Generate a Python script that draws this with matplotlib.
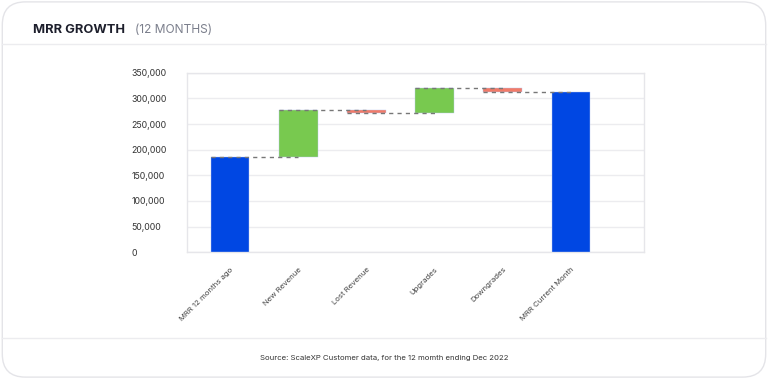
import numpy as np
import matplotlib
matplotlib.use("Agg")
import matplotlib.pyplot as plt
from matplotlib.patches import FancyBboxPatch
from matplotlib.ticker import FuncFormatter

plt.rcParams['font.family'] = ['Inter', 'DejaVu Sans']

categories = ["MRR 12 months ago", "New Revenue", "Lost Revenue",
              "Upgrades", "Downgrades", "MRR Current Month"]
start_mrr = 185000
changes = [93000, -6000, 48000, -7500]
yticks = [0, 50000, 100000, 150000, 200000, 250000, 300000, 350000]

blue = "#0047e3"
green = "#78c94f"
red = "#f27b68"

# waterfall bottoms / heights
levels = np.cumsum([start_mrr] + changes)
end_mrr = levels[-1]
bottoms = [0]
heights = [start_mrr]
colors = [blue]
for i, c in enumerate(changes):
    prev = levels[i]
    bottoms.append(min(prev, prev + c))
    heights.append(abs(c))
    colors.append(green if c > 0 else red)
bottoms.append(0)
heights.append(end_mrr)
colors.append(blue)
run = list(levels) + [end_mrr]

fig = plt.figure(figsize=(7.68, 3.79), dpi=100)
fig.patch.set_facecolor("white")

card = FancyBboxPatch((0.003, 0.005), 0.994, 0.99, boxstyle="round,pad=0,rounding_size=0.03",
                      transform=fig.transFigure, facecolor="white", edgecolor="#e4e4e8",
                      linewidth=1.0, mutation_aspect=768/379, zorder=-10)
fig.patches.append(card)

fig.add_artist(plt.Line2D([0.003, 0.997], [1 - 44/379, 1 - 44/379], color="#ececef", lw=1.0, zorder=-5))
fig.add_artist(plt.Line2D([0.003, 0.997], [1 - 338/379, 1 - 338/379], color="#ececef", lw=1.0, zorder=-5))

fig.text(33/768, 1 - 30/379, "MRR GROWTH", fontsize=9.3, fontweight="bold",
         color="#1d1f2c", va="center", ha="left")
fig.text(135/768, 1 - 30/379, "(12 MONTHS)", fontsize=8.6, color="#7b7f8c",
         va="center", ha="left")
fig.text(0.5, 1 - 358/379, "Source: ScaleXP Customer data, for the 12 momth ending Dec 2022",
         fontsize=5.6, color="#333333", ha="center", va="center")

ax = fig.add_axes([187/768, 1 - 252.3/379, (644 - 187)/768, (252.3 - 72.7)/379])
x = np.arange(len(categories))
w = 0.57
ax.bar(x, heights, bottom=bottoms, width=w, color=colors, edgecolor="#b8c8f0",
       linewidth=0.3, zorder=3)

for i in range(len(categories) - 1):
    ax.plot([x[i] - w / 2, x[i + 1]], [run[i], run[i]], color="#777777",
            lw=1.0, ls=(0, (3, 3)), zorder=4)

ax.set_xlim(-0.63, 6.07)
ax.set_ylim(0, 350000)
ax.set_yticks(yticks)
ax.yaxis.set_major_formatter(FuncFormatter(lambda v, p: f"{int(v):,}"))
ax.set_xticks(x)
ax.set_xticklabels(categories, rotation=45, ha="right", rotation_mode="anchor",
                   fontsize=5.6, color="#444444")
ax.tick_params(axis="y", labelsize=6.3, labelcolor="#333333", length=0, pad=40)
ax.tick_params(axis="x", length=0, pad=10)
for lbl in ax.get_yticklabels():
    lbl.set_horizontalalignment("left")
ax.grid(axis="y", color="#ececef", lw=1.0, zorder=0)
for s in ax.spines.values():
    s.set_color("#e6e6ea")
    s.set_linewidth(1.0)

fig.savefig("out.png", dpi=100)
